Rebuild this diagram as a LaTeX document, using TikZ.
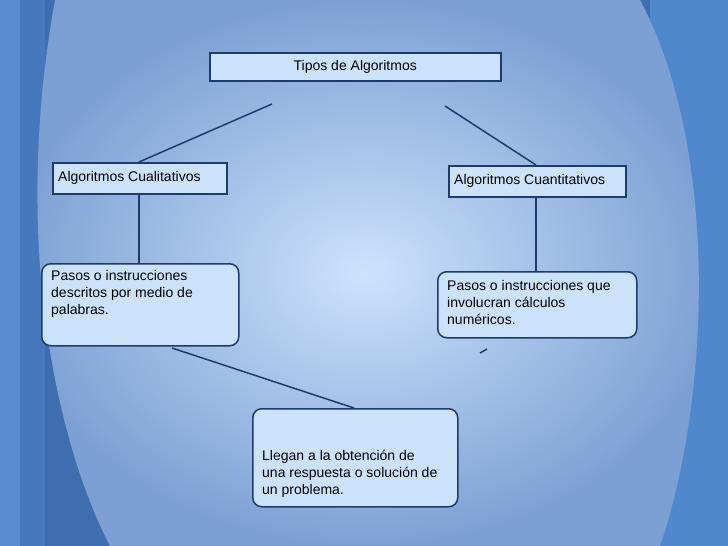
\documentclass[tikz,border=0pt]{standalone}
\usepackage{fontspec}
\setmainfont{Liberation Sans}
\begin{document}
\begin{tikzpicture}[x=1pt,y=-1pt,
  box/.style={draw=bordc,line width=1.5pt,fill=boxc,inner sep=0pt},
  rbox/.style={box,rounded corners=9pt},
  ln/.style={draw=bordc,line width=1.5pt},
  txt/.style={font=\fontsize{14}{17}\selectfont,align=left,inner sep=0pt}]
\definecolor{bordc}{HTML}{1C3C70}
\definecolor{boxc}{HTML}{CCE2FB}
\useasboundingbox (0,0) rectangle (728,546);
\fill[color={rgb,255:red,62;green,110;blue,176}] (0,0) rectangle (728,546);
\fill[color={rgb,255:red,90;green,140;blue,210}] (0,0) rectangle (20,546);
\fill[color={rgb,255:red,70;green,120;blue,190}] (20,0) rectangle (45,546);
\fill[color={rgb,255:red,80;green,135;blue,205}] (650,0) rectangle (728,546);
\shade[inner color={rgb,255:red,205;green,226;blue,252},outer color={rgb,255:red,125;green,160;blue,212}]
  (55,0) .. controls (10,250) and (60,450) .. (110,546) -- (660,546) .. controls (710,400) and (720,150) .. (640,0) -- cycle;
\node[box,minimum width=291pt,minimum height=28pt,anchor=north west] (top) at (209,52) {};
\node[txt] at (top.center) {Tipos de Algoritmos};
\node[box,minimum width=174pt,minimum height=31pt,anchor=north west] (qual) at (52,162) {};
\node[txt,anchor=west] at ([xshift=6pt]qual.west) {Algoritmos Cualitativos};
\node[box,minimum width=177pt,minimum height=31pt,anchor=north west] (quan) at (448,165) {};
\node[txt,anchor=west] at ([xshift=6pt]quan.west) {Algoritmos Cuantitativos};
\node[rbox,minimum width=197pt,minimum height=82pt,anchor=north west] (pl) at (41,263) {};
\node[txt,anchor=north west] at (51,270) {Pasos o instrucciones\\descritos por medio de\\palabras.};
\node[rbox,minimum width=199pt,minimum height=66pt,anchor=north west] (pr) at (437,271) {};
\node[txt,anchor=north west] at (447,280) {Pasos o instrucciones que\\involucran cálculos\\numéricos.};
\node[rbox,minimum width=205pt,minimum height=98pt,anchor=north west] (bot) at (252,408) {};
\node[txt,anchor=north west] at (262,450) {Llegan a la obtención de\\una respuesta o solución de\\un problema.};
\coordinate (a1) at (272,104); \coordinate (a2) at (445,106);
\coordinate (c1) at (172,348); \coordinate (s1) at (480,353); \coordinate (s2) at (487,349);
\draw[ln] (a1) -- (qual.north -| 139,0);
\draw[ln] (a2) -- (quan.north -| 536,0);
\draw[ln] (qual.south -| 139,0) -- (pl.north -| 139,0);
\draw[ln] (quan.south -| 536,0) -- (pr.north -| 536,0);
\draw[ln] (c1) -- (bot.north -| 354,0);
\draw[ln] (s1) -- (s2);
\end{tikzpicture}
\end{document}
